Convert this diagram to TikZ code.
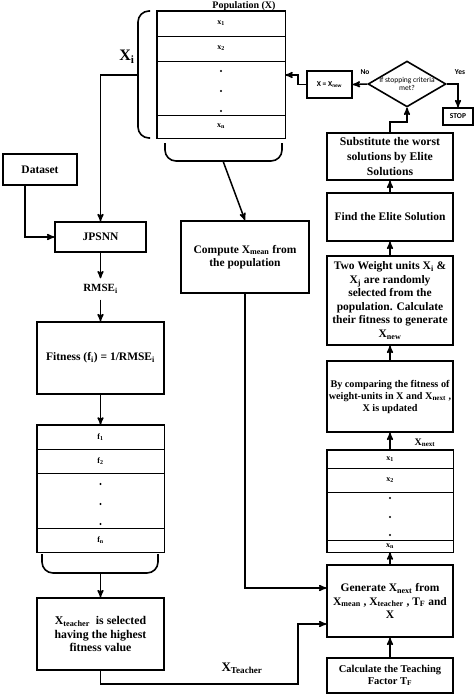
\documentclass[tikz,border=0pt]{standalone}
\usepackage{fontspec}
\setmainfont{Liberation Serif}
\newfontfamily\calib{Carlito}
\usetikzlibrary{arrows}
\usetikzlibrary{shapes.geometric}
\usetikzlibrary{positioning}

\tikzset{
 box/.style={draw, line width=1.6pt, align=center, inner sep=1pt, font=\bfseries\fontsize{11.5}{13.5}\selectfont},
 cell/.style={draw, line width=1pt, minimum width=#1, inner sep=0pt, font=\bfseries\fontsize{8}{9}\selectfont},
 small/.style={font=\calib\bfseries\fontsize{7.5}{8}\selectfont},
 arr/.style={->, >=stealth', line width=1.5pt},
 brk/.style={line width=1.6pt, rounded corners=11pt},
}

\begin{document}
\begin{tikzpicture}[x=1pt, y=-1pt]
\useasboundingbox (0,0) rectangle (474,696);

% population table
\node[cell=128, minimum height=25] (p1) at (221,23.5) {x\textsubscript{1}};
\node[cell=128, minimum height=25] (p2) at (221,48.5) {x\textsubscript{2}};
\node[cell=128, minimum height=54] (p3) at (221,88) {};
\node[cell=128, minimum height=23] (pn) at (221,126.5) {x\textsubscript{n}};
\draw[line width=1.6pt] (p1.north west) rectangle (pn.south east);
\foreach \y in {71,91,111} \fill (221,\y) circle (1.2);
\node[font=\bfseries\fontsize{10}{12}\selectfont] (poplab) at (244,6) {Population (X)};
\draw[brk] (150,11) -- (138,11) -- (138,138) -- (150,138);
\draw[brk] (165,143) -- (165,161) -- (282,161) -- (282,143);
\coordinate (brX) at (138,75);
\coordinate (brP) at (223,161);
\node[font=\bfseries\fontsize{16}{18}\selectfont] (xi) at (127,57) {X\textsubscript{i}};

% left column
\node[box, minimum width=74, minimum height=31] (data) at (40,169.5) {Dataset};
\node[box, minimum width=91, minimum height=30] (jpsnn) at (100.5,237) {JPSNN};
\node[font=\bfseries\fontsize{11}{13}\selectfont, inner sep=6pt] (rmse) at (100.5,289) {RMSE\textsubscript{i}};
\node[box, minimum width=127, minimum height=72] (fit) at (100.5,358) {Fitness (f\textsubscript{i}) = 1/RMSE\textsubscript{i}};

% fitness table
\node[cell=127, minimum height=24] (f1) at (100.5,437) {f\textsubscript{1}};
\node[cell=127, minimum height=24] (f2) at (100.5,461) {f\textsubscript{2}};
\node[cell=127, minimum height=55] (f3) at (100.5,500.5) {};
\node[cell=127, minimum height=24] (fn) at (100.5,540) {f\textsubscript{n}};
\draw[line width=1.6pt] (f1.north west) rectangle (fn.south east);
\foreach \y in {484,504,524} \fill (100.5,\y) circle (1.2);
\draw[brk] (42,554) -- (42,573) -- (158,573) -- (158,554);
\coordinate (brF) at (100.5,573);

\node[box, minimum width=127, minimum height=72, font=\bfseries\fontsize{11.8}{13.5}\selectfont] (teach) at (100.5,634)
 {X\textsubscript{teacher}\ \ is selected\\having the highest\\fitness value};
\coordinate (tbend) at (298,684);
\node[font=\bfseries\fontsize{13}{15}\selectfont] (xtlab) at (242,668) {X\textsubscript{Teacher}};

% middle
\node[box, minimum width=128, minimum height=72] (comp) at (245,257) {Compute X\textsubscript{mean} from\\the population};

% right column
\node[box, minimum width=126, minimum height=35, font=\bfseries\fontsize{10.5}{12}\selectfont] (calc) at (390,675.5) {Calculate the Teaching\\Factor T\textsubscript{F}};
\node[box, minimum width=126, minimum height=72] (gen) at (390,601)
 {Generate X\textsubscript{next} from\\X\textsubscript{mean} , X\textsubscript{teacher} , T\textsubscript{F} and\\X};

% X_next table
\node[cell=126, minimum height=18] (q1) at (390,459) {x\textsubscript{1}};
\node[cell=126, minimum height=24] (q2) at (390,480) {x\textsubscript{2}};
\node[cell=126, minimum height=48] (q3) at (390,516) {};
\node[cell=126, minimum height=12] (qn) at (390,546) {x\textsubscript{n}};
\draw[line width=1.6pt] (q1.north west) rectangle (qn.south east);
\foreach \y in {498,517,535} \fill (390,\y) circle (1.2);
\node[font=\bfseries\fontsize{10}{12}\selectfont] (xnlab) at (425,443) {X\textsubscript{next}};

\node[box, minimum width=126, minimum height=71, font=\bfseries\fontsize{10.2}{12}\selectfont] (upd) at (390,396.5)
 {By comparing the fitness of\\weight-units in X and X\textsubscript{next} ,\\X is updated};
\node[box, minimum width=126, minimum height=89] (two) at (390,300.5)
 {Two Weight units X\textsubscript{i} \&\\X\textsubscript{j} are randomly\\selected from the\\population. Calculate\\their fitness to generate\\X\textsubscript{new}};
\node[box, minimum width=126, minimum height=48] (elite) at (390,217) {Find the Elite Solution};
\node[box, minimum width=126, minimum height=47, font=\bfseries\fontsize{11.7}{15}\selectfont] (subst) at (390,156.5)
 {Substitute the worst\\solutions by Elite\\Solutions};

% stopping test
\node[diamond, draw, line width=1.6pt, aspect=1.7, inner sep=0pt, align=center, font=\calib\fontsize{7.5}{8}\selectfont] (dia) at (407,84)
 {If stopping criteria\\met?};
\node[draw, line width=1.6pt, small, minimum width=30, minimum height=17, inner sep=0pt] (stop) at (458,116.5) {STOP};
\node[draw, line width=1.6pt, small, minimum width=45, minimum height=27, inner sep=0pt] (xnew) at (329.5,84.5) {X = X\textsubscript{new}};
\node[small] (no) at (365,72) {No};
\node[small] (yes) at (460,72) {Yes};

% connectors
\draw[arr] (brX) -| (jpsnn.north);
\draw[arr] ([xshift=-15pt]data.south) |- (jpsnn.west);
\draw[arr] (jpsnn.south) -- (rmse.north);
\draw[arr] (rmse.south) -- (fit.north);
\draw[arr] (fit.south) -- (f1.north);
\draw[arr] (brF) -- (teach.north);
\draw[arr] (teach.south) |- (tbend) |- ([yshift=-23pt]gen.west);
\draw[arr] (brP) -- (comp.north);
\draw[arr] (comp.south) |- ([yshift=13pt]gen.west);
\foreach \a/\b in {calc/gen, gen/qn, q1/upd, upd/two, two/elite, elite/subst}
 \draw[arr] (\a.north) -- (\b.south);
\draw[arr] (subst.north) -- ++(0,-10) -| (dia.south);
\draw[arr] (dia.east) -| (stop.north);
\draw[arr] (dia.west) -- (xnew.east);
\draw[arr] (xnew.west) -- ++(-8,0) |- ([yshift=13pt]p3.east);
\end{tikzpicture}
\end{document}
